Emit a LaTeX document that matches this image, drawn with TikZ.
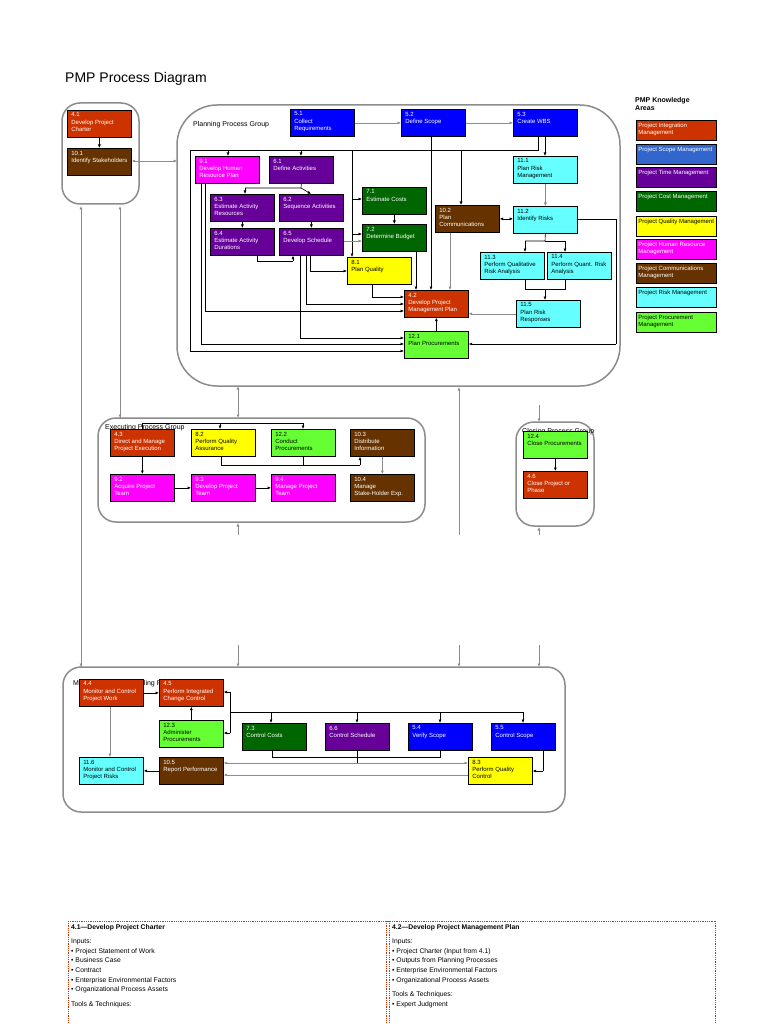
\documentclass[tikz,border=0pt]{standalone}
\usepackage{fontspec}
\setmainfont{Liberation Sans}
\usetikzlibrary{arrows.meta,calc}
\definecolor{cRed}{HTML}{CC3300}
\definecolor{cBlue}{HTML}{0000FF}
\definecolor{cLBlue}{HTML}{3366CC}
\definecolor{cPur}{HTML}{660099}
\definecolor{cGrn}{HTML}{006600}
\definecolor{cYel}{HTML}{FFFF00}
\definecolor{cMag}{HTML}{FF00FF}
\definecolor{cBrn}{HTML}{663300}
\definecolor{cCyan}{HTML}{66FFFF}
\definecolor{cLGrn}{HTML}{66FF33}
\definecolor{cGray}{HTML}{8C8C8C}
\newcommand{\pbt}[1]{\parbox[t][22pt][t]{60pt}{\raggedright\hsize=56pt #1}}
\newcommand{\lgt}[1]{\parbox[t][15pt][t]{76pt}{\raggedright #1}}
\begin{document}
\begin{tikzpicture}[x=1pt,y=-1pt,
  pbox/.style={draw=black,line width=0.7pt,anchor=north west,minimum width=64pt,minimum height=27pt,inner sep=2pt,font=\fontsize{6}{7.4}\selectfont},
  lbox/.style={draw=black,line width=0.7pt,anchor=north west,minimum width=79pt,minimum height=20pt,inner sep=2pt,font=\fontsize{6}{7.4}\selectfont},
  grp/.style={draw=cGray,line width=1.5pt,rounded corners=18pt},
  ar/.style={-{Latex[length=3.5pt,width=3pt]},line width=0.6pt},
  dar/.style={{Latex[length=3.5pt,width=3pt]}-{Latex[length=3.5pt,width=3pt]},line width=0.6pt},
  ln/.style={line width=0.6pt},
  gr/.style={draw=cGray},
  lab/.style={anchor=west,font=\fontsize{7}{8}\selectfont,inner sep=0pt}]
\useasboundingbox (0,0) rectangle (768,1024);
\fill[white] (0,0) rectangle (768,1024);
\node[anchor=west,font=\fontsize{14}{16}\selectfont,inner sep=0pt] (title) at (65,79) {PMP Process Diagram};

% groups
\draw[grp] (62,103) rectangle (139,204);
\draw[grp,rounded corners=40pt] (177,105) rectangle (620,386);
\draw[grp] (98,418) rectangle (425,522);
\draw[grp] (516,422) rectangle (594,526);
\draw[grp] (63,667) rectangle (565,812);
\node[lab] (pl) at (193,125) {Planning Process Group};
\node[lab] (ex) at (105,428) {Executing Process Group};
\node[lab] (cl) at (522,432) {Closing Process Group};
\node[lab] (mo) at (73,684) {Monitoring and Controlling Process Group};

% initiating
\node[pbox,fill=cRed,text=white] (n41) at (67,110) {\pbt{4.1\\Develop Project Charter}};
\node[pbox,fill=cBrn,text=white] (n101) at (67,148) {\pbt{10.1\\Identify Stakeholders}};

% planning
\node[pbox,fill=cBlue,text=white] (n51) at (290,109) {\pbt{5.1\\Collect Requirements}};
\node[pbox,fill=cBlue,text=white] (n52) at (401,109) {\pbt{5.2\\Define Scope}};
\node[pbox,fill=cBlue,text=white] (n53) at (513,109) {\pbt{5.3\\Create WBS}};
\node[pbox,fill=cMag,text=white] (n91) at (195,156) {\pbt{9.1\\Develop Human Resource Plan}};
\node[pbox,fill=cPur,text=white] (n61) at (269,156) {\pbt{6.1\\Define Activities}};
\node[pbox,fill=cPur,text=white] (n63) at (210,194) {\pbt{6.3\\Estimate Activity Resources}};
\node[pbox,fill=cPur,text=white] (n62) at (279,194) {\pbt{6.2\\Sequence Activities}};
\node[pbox,fill=cPur,text=white] (n64) at (210,228) {\pbt{6.4\\Estimate Activity Durations}};
\node[pbox,fill=cPur,text=white] (n65) at (279,228) {\pbt{6.5\\Develop Schedule}};
\node[pbox,fill=cGrn,text=white] (n71) at (362,187) {\pbt{7.1\\Estimate Costs}};
\node[pbox,fill=cGrn,text=white] (n72) at (362,224) {\pbt{7.2\\Determine Budget}};
\node[pbox,fill=cYel,text=black] (n81) at (347,257) {\pbt{8.1\\Plan Quality}};
\node[pbox,fill=cRed,text=white] (n42) at (404,290) {\pbt{4.2\\Develop Project Management Plan}};
\node[pbox,fill=cLGrn,text=black] (n121) at (404,331) {\pbt{12.1\\Plan Procurements}};
\node[pbox,fill=cBrn,text=white] (n102) at (435,205) {\pbt{10.2\\Plan Communications}};
\node[pbox,fill=cCyan,text=black] (n111) at (513,156) {\pbt{11.1\\Plan Risk Management}};
\node[pbox,fill=cCyan,text=black] (n112) at (513,206) {\pbt{11.2\\Identify Risks}};
\node[pbox,fill=cCyan,text=black] (n113) at (480,252) {\pbt{11.3\\Perform Qualitative Risk Analysis}};
\node[pbox,fill=cCyan,text=black] (n114) at (547,252) {\pbt{11.4\\Perform Quant. Risk Analysis}};
\node[pbox,fill=cCyan,text=black] (n115) at (516,300) {\pbt{11.5\\Plan Risk Responses}};

% legend
\node[anchor=north west,inner sep=0pt,align=left,font=\bfseries\fontsize{7}{8}\selectfont] (lgt) at (635,97) {PMP Knowledge\\Areas};
\node[lbox,fill=cRed,text=white] (l1) at (636,120) {\lgt{Project Integration Management}};
\node[lbox,fill=cLBlue,text=white] (l2) at (636,144) {\lgt{Project Scope Management}};
\node[lbox,fill=cPur,text=white] (l3) at (636,167) {\lgt{Project Time Management}};
\node[lbox,fill=cGrn,text=white] (l4) at (636,191) {\lgt{Project Cost Management}};
\node[lbox,fill=cYel,text=black] (l5) at (636,216) {\lgt{Project Quality Management}};
\node[lbox,fill=cMag,text=white] (l6) at (636,239) {\lgt{Project Human Resource Management}};
\node[lbox,fill=cBrn,text=white] (l7) at (636,263) {\lgt{Project Communications Management}};
\node[lbox,fill=cCyan,text=black] (l8) at (636,287) {\lgt{Project Risk Management}};
\node[lbox,fill=cLGrn,text=black] (l9) at (636,312) {\lgt{Project Procurement Management}};

% executing
\node[pbox,fill=cRed,text=white] (n43) at (110,429) {\pbt{4.3\\Direct and Manage Project Execution}};
\node[pbox,fill=cYel,text=black] (n82) at (191,429) {\pbt{8.2\\Perform Quality Assurance}};
\node[pbox,fill=cLGrn,text=black] (n122) at (271,429) {\pbt{12.2\\Conduct Procurements}};
\node[pbox,fill=cBrn,text=white] (n103) at (350,429) {\pbt{10.3\\Distribute Information}};
\node[pbox,fill=cMag,text=white] (n92) at (110,474) {\pbt{9.2\\Acquire Project Team}};
\node[pbox,fill=cMag,text=white] (n93) at (191,474) {\pbt{9.3\\Develop Project Team}};
\node[pbox,fill=cMag,text=white] (n94) at (271,474) {\pbt{9.4\\Manage Project Team}};
\node[pbox,fill=cBrn,text=white] (n104) at (350,474) {\pbt{10.4\\Manage Stake-Holder Exp.}};
% closing
\node[pbox,fill=cLGrn,text=black] (n124) at (523,431) {\pbt{12.4\\Close Procurements}};
\node[pbox,fill=cRed,text=white] (n46) at (523,471) {\pbt{4.6\\Close Project or Phase}};

% monitoring
\node[pbox,fill=cRed,text=white] (n44) at (79,679) {\pbt{4.4\\Monitor and Control Project Work}};
\node[pbox,fill=cRed,text=white] (n45) at (159,679) {\pbt{4.5\\Perform Integrated Change Control}};
\node[pbox,fill=cLGrn,text=black] (n123) at (159,720) {\pbt{12.3\\Administer Procurements}};
\node[pbox,fill=cGrn,text=white] (n73) at (242,723) {\pbt{7.3\\Control Costs}};
\node[pbox,fill=cPur,text=white] (n66) at (325,723) {\pbt{6.6\\Control Schedule}};
\node[pbox,fill=cBlue,text=white] (n54) at (408,723) {\pbt{5.4\\Verify Scope}};
\node[pbox,fill=cBlue,text=white] (n55) at (491,723) {\pbt{5.5\\Control Scope}};
\node[pbox,fill=cCyan,text=black] (n116) at (79,757) {\pbt{11.6\\Monitor and Control Project Risks}};
\node[pbox,fill=cBrn,text=white] (n105) at (159,757) {\pbt{10.5\\Report Performance}};
\node[pbox,fill=cYel,text=black] (n83) at (468,757) {\pbt{8.3\\Perform Quality Control}};

% ---- connectors: initiating/planning
\draw[ar] (n41) -- (n101);
\draw[dar,gr] (n101.east |- 0,161) -- (177,161);
\draw[ar,gr] (n51) -- (n52);
\draw[ar,gr] (n52) -- (n53);
\draw[ar] (n53.south -| 545,0) -- (n111.north -| 545,0);
\draw[ln] (n53.south -| 538,0) -- (538,150) -- (190,150) -- (190,351);
\draw[ar] (190,351) -- (n121.west |- 0,351);
\draw[ar] (228,150) -- (n91.north -| 228,0);
\draw[ar] (301,150) -- (n61.north -| 301,0);
\draw[ar] (461,150) -- (n102.north -| 461,0);
\draw[ar] (431,137) -- (n42.north -| 431,0);
\draw[ar] (352,150) -- (n81.north -| 352,0);
\draw[ar] (352,199) -- (n71.west |- 0,199);
\draw[ar] (352,234) -- (n72.west |- 0,234);
\draw[ar] (n71) -- (n72);
\draw[ar] (n72.south -| 416,0) -- (n42.north -| 416,0);
\draw[ln] (n61.south) -- (301,188) -- (245,188);
\draw[ar] (245,188) -- (n63.north -| 245,0);
\draw[ar] (301,188) -- (n62.north -| 311,0) ;
\draw[ar] (n63) -- (n64);
\draw[ar] (n62) -- (n65);
\draw[ln] (n64.south -| 257,0) -- (257,261) -- (293,261);
\draw[ar] (293,261) -- (n65.south -| 293,0);
\draw[ar,gr] (n65.east |- 0,241) -- (n72.west |- 0,241);
\draw[ln] (n65.south -| 310,0) -- (310,271);
\draw[ar] (310,271) -- (n81.west |- 0,271);
\draw[ln] (n81.south -| 372,0) -- (372,297);
\draw[ar] (372,297) -- (n42.west |- 0,297);
\draw[ln] (n65.south -| 306,0) -- (306,304);
\draw[ar] (306,304) -- (n42.west |- 0,304);
\draw[ln] (n91.south -| 205,0) -- (205,311);
\draw[ar] (205,311) -- (n42.west |- 0,311);
\draw[ln] (n65.south -| 300,0) -- (300,338);
\draw[ar] (300,338) -- (n121.west |- 0,338);
\draw[ln] (n91.south -| 201,0) -- (201,344);
\draw[ar] (201,344) -- (n121.west |- 0,344);
\draw[ar] (n121) -- (n42);
\draw[ar,gr] (n102.south -| 450,0) -- (n42.north -| 450,0);
\draw[ar,gr] (n111) -- (n112);
\draw[dar] (n102) -- (n112.west |- n102);
\draw[ln] (n112.south) -- (545,241) -- (525,241);
\draw[ln] (545,241) -- (565,241);
\draw[ar] (525,241) -- (n113.north -| 525,0);
\draw[ar] (565,241) -- (n114.north -| 565,0);
\draw[ln] (n113.south -| 525,0) -- (525,289) -- (565,289) -- (n114.south -| 565,0);
\draw[ar] (545,289) -- (n115.north -| 545,0);
\draw[ar,gr] (n115) -- (n42.east |- n115);
\draw[ln] (n112.east |- 0,219) -- (616,219) -- (616,344);
\draw[ar] (616,344) -- (n121.east |- 0,344);

% ---- inter-group lines
\draw[ar,gr,line width=1pt] (81,667) -- (81,206);
\draw[ar,gr,line width=1pt] (81,640) -- (81,667);
\draw[ar,gr,line width=1pt] (120,418) -- (120,206);
\draw[ar,gr,line width=1pt] (120,400) -- (120,418);
\draw[dar,gr,line width=1pt] (238,386) -- (238,418);
\draw[ar,gr,line width=1pt] (238,535) -- (238,523);
\draw[ar,gr,line width=1pt] (238,645) -- (238,667);
\draw[ar,gr,line width=1pt] (459,535) -- (459,387);
\draw[ar,gr,line width=1pt] (459,645) -- (459,667);
\draw[ar,gr,line width=1pt] (539,535) -- (539,527);
\draw[ar,gr,line width=1pt] (539,645) -- (539,667);
\draw[ar,gr,line width=1pt] (539,405) -- (539,422);

% ---- executing
\draw[ar] (n43) -- (n92);
\draw[ar] (n92) -- (n93);
\draw[ar] (n93) -- (n94);
\draw[ar,gr] (n103) -- (n104);
\draw[ln] (n43.north -| 142,0) -- (142,423) -- (303,423);
\draw[ar] (220,423) -- (n82.north -| 220,0);
\draw[ar] (303,423) -- (n122.north -| 303,0);
\draw[ln] (n82.south -| 221,0) -- (221,465) -- (360,465);
\draw[ln] (n122.south -| 303,0) -- (303,465);
\draw[ar] (360,465) -- (n103.south -| 360,0);
\draw[ar] (n124) -- (n46);

% ---- monitoring
\draw[ar] (n44) -- (n45);
\draw[ar] (n123) -- (n45);
\draw[ar,gr] (n44.south -| 110,0) -- (n116.north -| 110,0);
\draw[ln] (230,692) -- (230,733);
\draw[ar] (230,692) -- (n45.east |- 0,692);
\draw[ar] (230,733) -- (n123.east |- 0,733);
\draw[ln] (230,712) -- (523,712);
\draw[ar] (271,712) -- (n73.north -| 271,0);
\draw[ar] (357,712) -- (n66.north -| 357,0);
\draw[ar] (440,712) -- (n54.north -| 440,0);
\draw[ar] (523,712) -- (n55.north -| 523,0);
\draw[ln] (n73.south -| 272,0) -- (272,757) -- (440,757) -- (n54.south -| 440,0);
\draw[ln] (n66.south -| 357,0) -- (357,763);
\draw[dar,gr] (n105.east |- 0,763) -- (n83.west |- 0,763);
\draw[ln] (n55.south -| 543,0) -- (543,771);
\draw[ar] (543,771) -- (n83.east |- 0,771);
\draw[ar,gr] (n83.west |- 0,775) -- (n105.east |- 0,775);
\draw[ar] (n105) -- (n116);

% ---- tables
\draw[cRed,densely dotted,line width=0.8pt] (68,921) -- (715,921);
\draw[cRed,densely dotted,line width=0.8pt] (68,921) -- (68,1024);
\draw[cRed,densely dotted,line width=0.8pt] (386,921) -- (386,1024);
\draw[cRed,densely dotted,line width=0.8pt] (389,921) -- (389,1024);
\draw[cRed,densely dotted,line width=0.8pt] (715,921) -- (715,1024);
\node[anchor=north west,inner sep=0pt,align=left,font=\fontsize{6.8}{9.6}\selectfont] (t1) at (71,924)
 {\textbf{4.1---Develop Project Charter}\\[5pt]Inputs:\\• Project Statement of Work\\• Business Case\\• Contract\\• Enterprise Environmental Factors\\• Organizational Process Assets\\[5pt]Tools \& Techniques:};
\node[anchor=north west,inner sep=0pt,align=left,font=\fontsize{6.8}{9.6}\selectfont] (t2) at (392,924)
 {\textbf{4.2---Develop Project Management Plan}\\[5pt]Inputs:\\• Project Charter (Input from 4.1)\\• Outputs from Planning Processes\\• Enterprise Environmental Factors\\• Organizational Process Assets\\[5pt]Tools \& Techniques:\\• Expert Judgment};
\end{tikzpicture}
\end{document}
